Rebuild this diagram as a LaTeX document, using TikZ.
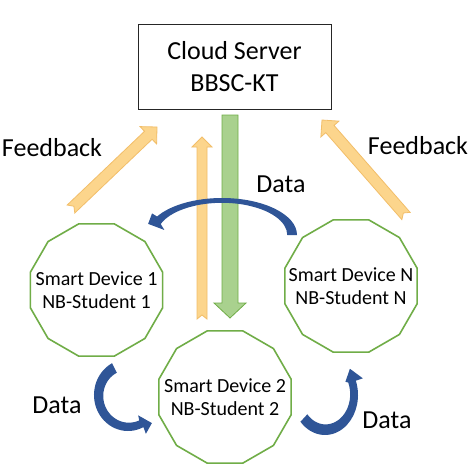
\documentclass[tikz,border=0pt]{standalone}
\usepackage{fontspec}
\setmainfont{Carlito}
\usetikzlibrary{calc,shapes.geometric}

\definecolor{devgreen}{RGB}{112,173,71}
\definecolor{upgreen}{RGB}{169,209,142}
\definecolor{fbfill}{RGB}{252,213,140}
\definecolor{fbdraw}{RGB}{242,190,105}
\definecolor{datablue}{RGB}{47,85,151}

% block arrow: style, tail, tip, half shaft, half head, head length, notch
\newcommand{\blockarrow}[7]{%
    \filldraw[#1]
        ($(#2)!#4!90:(#3)$) --
        ($(#3)!#6!(#2)!#4!-90:(#2)$) --
        ($(#3)!#6!(#2)!#5!-90:(#2)$) --
        (#3) --
        ($(#3)!#6!(#2)!#5!90:(#2)$) --
        ($(#3)!#6!(#2)!#4!90:(#2)$) --
        ($(#2)!#4!-90:(#3)$) --
        ($(#2)!#7!(#3)$) -- cycle;}

\begin{document}
\begin{tikzpicture}[%
    x=1pt, y=1pt,
    serverbox/.style={
        draw=black!85, line width=1pt,
        minimum width=193pt, minimum height=85pt,
        align=center, font=\fontsize{26}{32}\selectfont
    },
    device/.style={
        regular polygon, regular polygon sides=12,
        minimum size=137pt, inner sep=0pt,
        draw=devgreen, line width=1.6pt, fill=white,
        label={[align=center, font=\fontsize{20}{23}\selectfont]center:#1}
    },
    labeltext/.style={font=\fontsize{26}{30}\selectfont, inner sep=0pt},
    feedbackarrow/.style={fill=fbfill, draw=fbdraw, line width=0.8pt},
    uparrow/.style={fill=upgreen, draw=devgreen, line width=0.8pt},
    dataarrow/.style={fill=datablue}
]
    % Page frame, same size as the original figure.
    \path[use as bounding box, fill=white] (0,0) rectangle (474,-474);

    % Server and devices.
    \node[serverbox] (server) at (234.5,-66.5) {Cloud Server\\BBSC-KT};
    \node[device={Smart Device 1\\NB-Student 1}] (dev1) at (96.5,-290) {};
    \node[device={Smart Device 2\\NB-Student 2}] (dev2) at (225,-397) {};
    \node[device={Smart Device N\\NB-Student N}] (devN) at (351,-286) {};

    % End points of the block arrows.
    \coordinate (fb1 tail) at (71,-209);
    \coordinate (fb1 tip)  at (157,-127);
    \coordinate (fbN tail) at (406,-216);
    \coordinate (fbN tip)  at (322,-120);
    \coordinate (fb2 tail) at (202,-319);
    \coordinate (fb2 tip)  at (202,-137);
    \coordinate (down top) at (230,-115);
    \coordinate (down tip) at (230,-318);

    % Feedback arrows up to the server.
    \blockarrow{feedbackarrow}{fb1 tail}{fb1 tip}{5.5pt}{12pt}{12pt}{4pt}
    \blockarrow{feedbackarrow}{fbN tail}{fbN tip}{5.5pt}{12pt}{12pt}{4pt}
    \blockarrow{feedbackarrow}{fb2 tail}{fb2 tip}{5pt}{10pt}{10pt}{4pt}

    % Model sent down to the devices.
    \blockarrow{uparrow}{down top}{down tip}{8pt}{16pt}{15pt}{0pt}

    % Data arc from device N over to device 1.
    \begin{scope}[shift={(222,-235)}, xscale=75, yscale=37]
        \fill[dataarrow] (0:1) arc[start angle=0, end angle=150, radius=1]
            -- (148:1.1) -- (163:1.03) -- (170:0.78) -- (160:0.87)
            arc[start angle=160, end angle=0, radius=0.87] -- cycle;
    \end{scope}

    % Data arc from device 1 down to device 2.
    \begin{scope}[shift={(128,-395)}, xscale=34, yscale=36]
        \fill[dataarrow] (118:1) arc[start angle=118, end angle=297, radius=1]
            -- (296:1.2) -- (312:1.05) -- (298:0.64)
            -- plot[domain=295:118, samples=30]
               ({(0.7+0.08*(\x-118)/177)*cos(\x)}, {(0.7+0.08*(\x-118)/177)*sin(\x)})
            -- cycle;
    \end{scope}

    % Data arc from device 2 up to device N.
    \begin{scope}[shift={(325,-395)}, xscale=33, yscale=40]
        \fill[dataarrow] (222:1) arc[start angle=222, end angle=381, radius=1]
            -- (380:1.22) -- (41:1.0) -- (28:0.7)
            -- plot[domain=384:222, samples=30]
               ({(0.72+0.05*(\x-222)/162)*cos(\x)}, {(0.72+0.05*(\x-222)/162)*sin(\x)})
            -- cycle;
    \end{scope}

    % Labels.
    \node[labeltext] (fbleft)   at (52,-148)  {Feedback};
    \node[labeltext] (fbright)  at (418,-146) {Feedback};
    \node[labeltext] (datatop)  at (281,-184) {Data};
    \node[labeltext] (dataleft) at (57,-405)  {Data};
    \node[labeltext] (dataright) at (387,-420) {Data};
\end{tikzpicture}
\end{document}
